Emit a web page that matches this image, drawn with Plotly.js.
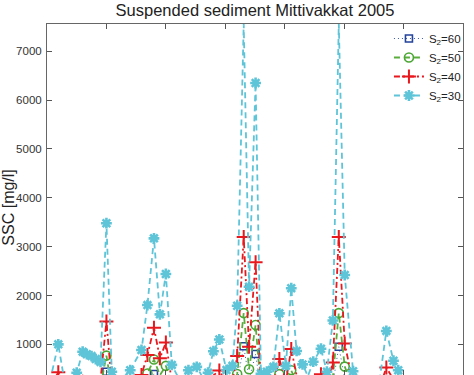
<!DOCTYPE html>
<html>
<head>
<meta charset="utf-8">
<script src="https://cdn.plot.ly/plotly-3.0.1.min.js"></script>
<style>html,body{margin:0;padding:0;overflow:hidden;background:#fff}#chart{width:474px;height:375px}</style>
</head>
<body>
<div id="chart"></div>
<script>
// sample times (axis units)
var t = [0.05,0.19,0.30,0.50,0.60,0.67,0.75,0.82,0.90,1.00,1.09,1.23,1.40,1.59,1.69,1.80,1.90,2.00,2.10,2.24,
         2.38,2.52,2.63,2.71,2.80,2.90,3.02,3.12,3.20,3.31,3.40,3.51,3.60,3.70,3.81,3.91,4.02,4.11,4.20,4.30,
         4.39,4.48,4.61,4.71,4.81,4.91,5.01,5.15,5.27,5.44,5.60,5.71,5.83,5.91,6.02];
var ssc60 = [33,125,26,55,105,100,95,90,80,440,55,32,60,112,232,395,212,320,72,32,
             60,70,38,55,110,138,60,72,227,960,280,802,52,55,70,210,72,270,110,75,
             43,80,115,55,187,950,312,57,32,26,37,155,83,60,32];
var ssc50 = [57,220,45,95,185,175,165,155,140,770,95,55,105,195,405,690,370,560,125,55,
             105,120,65,95,190,240,105,125,395,1640,490,1395,90,95,120,390,125,470,190,130,
             75,140,200,95,325,1640,545,100,55,45,65,270,145,105,55];
var ssc40 = [110,430,85,180,360,340,320,300,270,1470,185,105,200,375,780,1340,715,1040,245,105,
             200,230,130,180,365,465,200,240,760,3200,950,2680,170,185,230,700,240,905,365,250,
             150,275,390,185,630,3200,1020,190,105,85,130,525,280,200,105];
var ssc30 = [250,1000,200,420,850,800,760,700,640,3480,440,250,470,885,1805,3170,1615,2440,580,250,
             470,540,300,420,860,1100,475,560,1790,7560,2180,6350,400,440,540,1635,560,2150,865,590,
             350,645,910,440,1490,7560,2420,450,250,200,300,1275,665,470,250];
var names = ['S<sub>2</sub>=60','S<sub>2</sub>=50','S<sub>2</sub>=40','S<sub>2</sub>=30'];
var tickVals = [1,2,3,4,5,6];
var yTicks = [1000,2000,3000,4000,5000,6000,7000];

var traces = [
  {x:t, y:ssc60, name:names[0], mode:'lines+markers', cliponaxis:false,
   line:{color:'#3a5aa8', width:1, dash:'1px,3px'},
   marker:{symbol:'square-open', size:7, color:'#23439a', line:{width:1.6, color:'#23439a'}}},
  {x:t, y:ssc50, name:names[1], mode:'lines+markers', cliponaxis:false,
   line:{color:'#5aad3c', width:1.8, dash:'6px,4px'},
   marker:{symbol:'circle-open', size:9, color:'#4aa632', line:{width:1.6, color:'#4aa632'}}},
  {x:t, y:ssc40, name:names[2], mode:'lines+markers', cliponaxis:false,
   line:{color:'#e8191e', width:1.8, dash:'6px,3px,2px,3px'},
   marker:{symbol:'cross-thin-open', size:10, color:'#e8191e', line:{width:2, color:'#e8191e'}}},
  {x:t, y:ssc30, name:names[3], mode:'lines+markers', cliponaxis:false,
   line:{color:'#5ec4d8', width:1.8, dash:'6px,4px'},
   marker:{symbol:'asterisk-open', size:9, color:'#5ec4d8', line:{width:2.6, color:'#5ec4d8'}}}
];

var layout = {
  width:474, height:375,
  margin:{l:47, r:11, t:24, b:0},
  paper_bgcolor:'#fff', plot_bgcolor:'#fff',
  font:{family:'Liberation Sans, Arial, sans-serif', size:11.5, color:'#333'},
  title:{text:'Suspended sediment Mittivakkat 2005', font:{size:16.5, color:'#222'},
         x:0.538, xanchor:'center', y:0.973, yanchor:'middle'},
  showlegend:true,
  legend:{x:0.822, xanchor:'left', y:1.0, yanchor:'top', bgcolor:'rgba(255,255,255,0)',
          borderwidth:0, font:{size:11.5, color:'#222'}, tracegroupgap:0, itemwidth:30},
  xaxis:{range:[0,7], tickvals:tickVals, showticklabels:false, ticks:'inside', ticklen:5,
         tickcolor:'#555', showgrid:false, zeroline:false, showline:true, linecolor:'#666',
         linewidth:1, mirror:'ticks'},
  yaxis:{range:[373,7558], tickvals:yTicks, ticks:'inside', ticklen:5, tickcolor:'#555',
         showgrid:false, zeroline:false, showline:true, linecolor:'#666', linewidth:1,
         mirror:'ticks', ticklabelstandoff:2, tickfont:{size:11.5, color:'#333'}},
  annotations:[{text:'SSC [mg/l]', xref:'paper', yref:'paper', x:-0.092, y:0.476,
                xanchor:'center', yanchor:'middle', textangle:-90, showarrow:false,
                font:{size:16, color:'#222'}}]
};
Plotly.newPlot('chart', traces, layout, {staticPlot:true, displayModeBar:false});
</script>
</body>
</html>
